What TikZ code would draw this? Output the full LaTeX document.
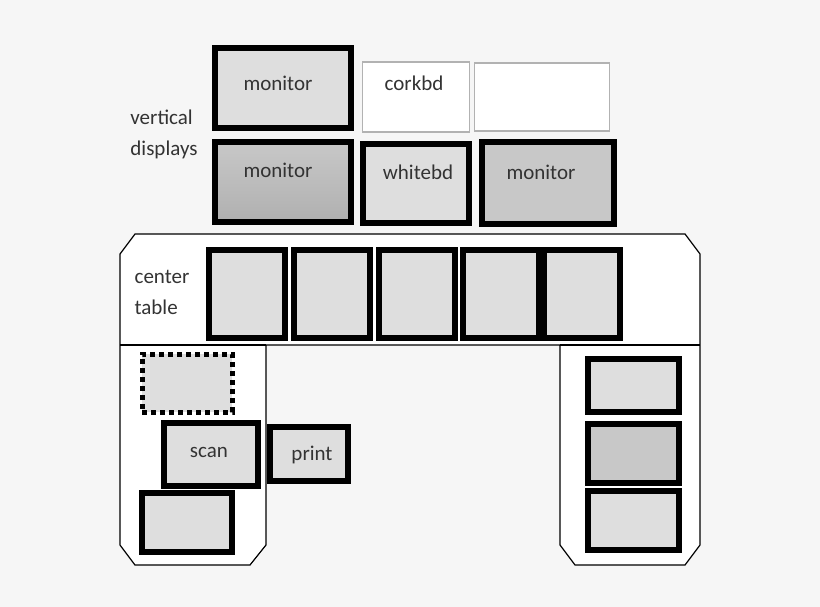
\documentclass[tikz,border=0pt]{standalone}
\usepackage{fontspec}
\setmainfont{Carlito}
\begin{document}
\begin{tikzpicture}[x=1pt,y=-1pt,
  dev/.style={draw=black,line width=6pt,fill=lightbox},
  thin/.style={draw=gray!60,line width=1.5pt,fill=white},
  lab/.style={font=\fontsize{21}{31}\selectfont,text=black!80,align=left}]
\definecolor{lightbox}{HTML}{DEDEDE}
\definecolor{midbox}{HTML}{C8C8C8}
\definecolor{darkbox}{HTML}{B0B0B0}
\useasboundingbox[fill={rgb,255:red,246;green,246;blue,246}] (0,0) rectangle (820,607);
% table outline
\draw[line width=1.2pt,fill=white] (135,234) -- (685,234) -- (700,254) -- (700,545) -- (685,565) -- (575,565) -- (560,545) -- (560,345) -- (266,345) -- (266,545) -- (250,565) -- (135,565) -- (120,545) -- (120,254) -- cycle;
\draw[line width=1.2pt] (120,345) -- (266,345) (560,345) -- (700,345);
% top row
\node[dev,minimum width=136pt,minimum height=80pt] (m1) at (283,88) {};
\node[lab] at (278,83) {monitor};
\node[thin,minimum width=107pt,minimum height=70pt] (cork) at (416,97) {};
\node[lab] at (414,83) {corkbd};
\node[thin,minimum width=135pt,minimum height=68pt] (blank) at (542,97) {};
\node[dev,top color=lightbox!90!black,bottom color=darkbox,minimum width=136pt,minimum height=80pt] (m2) at (283,182) {};
\node[lab] at (278,170) {monitor};
\node[dev,minimum width=106pt,minimum height=79pt] (wb) at (416,184) {};
\node[lab] at (418,172) {whitebd};
\node[dev,fill=midbox,minimum width=132pt,minimum height=82pt] (m3) at (548,183) {};
\node[lab] at (541,172) {monitor};
\node[lab] (vd) at (164,134) {vertical\\displays};
\node[lab] (ct) at (162,292) {center\\table};
% center squares
\foreach \x/\n in {247/c1,332/c2,417/c3,501/c4,582/c5}
  \node[dev,minimum width=76pt,minimum height=88pt] (\n) at (\x,294) {};
% left wing
\node[draw=black,line width=5pt,dash pattern=on 5pt off 4pt,fill=lightbox,minimum width=90pt,minimum height=58pt] (dot) at (187,383) {};
\node[dev,minimum width=94pt,minimum height=63pt] (scan) at (211,454) {};
\node[lab] at (209,452) {scan};
\node[dev,minimum width=78pt,minimum height=54pt] (print) at (309,454) {};
\node[lab] at (312,455) {print};
\node[dev,minimum width=90pt,minimum height=59pt] (lb) at (187,522) {};
% right wing
\node[dev,minimum width=91pt,minimum height=53pt] (r1) at (633,385) {};
\node[dev,fill=midbox,minimum width=91pt,minimum height=59pt] (r2) at (633,453) {};
\node[dev,minimum width=91pt,minimum height=59pt] (r3) at (633,520) {};
\end{tikzpicture}
\end{document}
